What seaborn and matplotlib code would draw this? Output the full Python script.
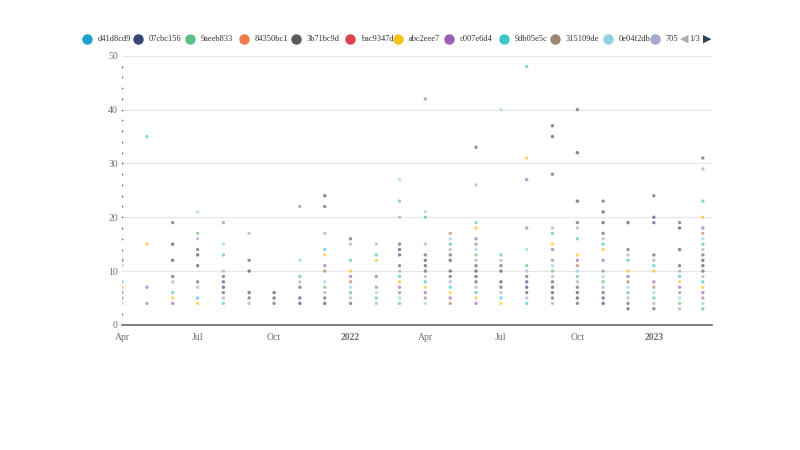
import matplotlib
matplotlib.use("Agg")
import matplotlib.pyplot as plt
from matplotlib.lines import Line2D
import seaborn as sns
import pandas as pd

months = pd.date_range("2021-04-01", periods=24, freq="MS")
values_by_month = [
    [4,5,6,7,8,11,12],
    [4,7,15,35],
    [4,5,6,8,9,12,15,19],
    [4,5,7,8,11,13,14,16,17,21],
    [4,5,6,7,8,9,10,13,15,19],
    [4,5,6,10,12,17],
    [4,5,6],
    [4,5,7,8,9,12,22],
    [4,5,6,7,8,10,11,13,14,17,22,24],
    [4,5,6,7,8,9,10,12,15,16],
    [4,5,6,7,9,12,13,15],
    [4,5,6,7,8,9,10,11,13,14,15,20,23,27],
    [4,5,6,7,8,9,10,11,12,13,15,20,21,42],
    [4,5,6,7,8,9,10,12,13,14,15,16,17],
    [4,5,6,7,8,9,10,11,12,13,14,15,16,18,19,26,33],
    [4,5,6,7,8,10,11,12,13,40],
    [4,5,6,7,8,9,10,11,14,18,27,31,48],
    [4,5,6,7,8,9,10,11,12,14,15,17,18,28,35,37],
    [4,5,6,7,8,9,10,11,12,13,16,18,19,23,32,40],
    [4,5,6,7,8,9,10,12,14,15,16,17,19,21,23],
    [3,4,5,6,7,8,9,10,12,13,14,19],
    [3,4,5,6,7,8,10,11,12,13,19,20,24],
    [3,4,5,6,7,8,9,10,11,14,18,19],
    [3,4,5,6,7,8,9,10,11,12,13,14,15,16,17,18,20,23,29,31],
]
tiny_values = [2,14,16,18,20,22,24,26,28,30,32,34,36,38,40,42,44,46,48]
series_names = ["d41d8cd9","07cbc156","9aeeb833","84350bc1","3b71bc9d","bac9347d",
                "abc2eee7","c007e6d4","9db05e5c","315109de","0e04f2db","705"]
series_colors = ["#1f9ec9","#3a4577","#5bbf82","#f07c4a","#5b5b5b","#d9424e",
                 "#f5c414","#9c5fb5","#3cc7c7","#9b8670","#8fd0e3","#a3a9cb"]
legend_x = [87,138,190,244,296,350,398,449,504,555,608,655]
point_colors = ["#3a4577","#5b5b5b","#a3a9cb","#5bbf82","#8fd0e3","#9b8670",
                "#9c5fb5","#f5c414","#3cc7c7","#a3a9cb","#5b5b5b","#3a4577"]

rows = []
for m, vals in zip(months, values_by_month):
    for i, v in enumerate(vals):
        rows.append({"date": m, "value": v, "c": point_colors[(i + m.month) % len(point_colors)]})
df = pd.DataFrame(rows)
tiny = pd.DataFrame({"date": [months[0]] * len(tiny_values), "value": tiny_values})

sns.set_theme(style="white")
plt.rcParams["font.family"] = ["Liberation Serif", "DejaVu Sans"]
fig = plt.figure(figsize=(8, 4.5), dpi=100)
ax = fig.add_axes([0.1525, 0.278, 0.7375, 0.598])
sns.scatterplot(data=df, x="date", y="value", hue="c", palette={c: c for c in df["c"].unique()},
                s=6, alpha=0.65, linewidth=0, legend=False, ax=ax)
sns.scatterplot(data=tiny, x="date", y="value", color="#5b5b5b", s=1.5, linewidth=0, legend=False, ax=ax)

ax.set_ylim(0, 50)
ax.set_xlim(pd.Timestamp("2021-04-01"), pd.Timestamp("2023-03-12"))
ax.set_yticks([0, 10, 20, 30, 40, 50])
ax.yaxis.grid(True, color="#e6e6e6", linewidth=0.8)
ticks = pd.to_datetime(["2021-04-01","2021-07-01","2021-10-01","2022-01-01",
                        "2022-04-01","2022-07-01","2022-10-01","2023-01-01"])
labels = ["Apr","Jul","Oct","2022","Apr","Jul","Oct","2023"]
ax.set_xticks(ticks)
ax.set_xticklabels(labels)
for t in ax.get_xticklabels():
    if t.get_text() in ("2022", "2023"):
        t.set_fontweight("bold")
ax.tick_params(axis="both", labelsize=7, colors="#6e7079", length=0, pad=3)
ax.tick_params(axis="x", length=3, color="#6e7079")
for s in ["top", "right", "left"]:
    ax.spines[s].set_visible(False)
ax.spines["bottom"].set_color("#6e7079")
ax.set_xlabel("")
ax.set_ylabel("")

ly = 1 - 39 / 450
for x, name, c in zip(legend_x, series_names, series_colors):
    fig.add_artist(Line2D([x / 800], [ly], marker="o", markersize=6.5, color=c,
                          linestyle="", transform=fig.transFigure))
    fig.text((x + 11) / 800, ly, name, fontsize=6, color="#333333", va="center")
fig.text(684 / 800, ly, "\u25c0", fontsize=8, color="#aaaaaa", va="center", ha="center")
fig.text(695 / 800, ly, "1/3", fontsize=6, color="#333333", va="center", ha="center")
fig.text(707 / 800, ly, "\u25b6", fontsize=8, color="#2f4554", va="center", ha="center")
fig.savefig("out.png", dpi=100)
